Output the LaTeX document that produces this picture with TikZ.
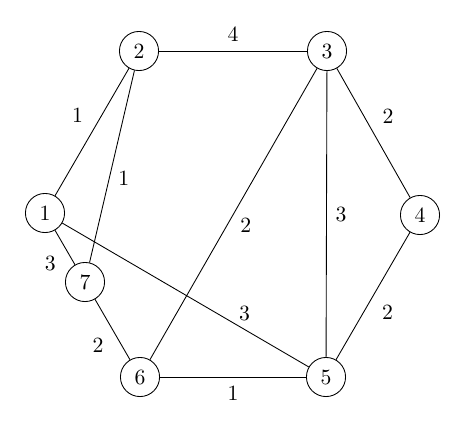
\documentclass[tikz,border=0pt]{standalone}
\usepackage{amsmath}
\usetikzlibrary{shapes, calc}

\begin{document}
\begin{tikzpicture}[x=0.46pt, y=-0.46pt, vertex/.style={draw, circle, minimum size=18pt, inner sep=0pt}, wt/.style={inner sep=4pt}]

	\useasboundingbox (0,0) rectangle (474,439);

	\node[vertex] (v1) at (45,213) {$1$};
	\node[vertex] (v2) at (139,51) {$2$};
	\node[vertex] (v3) at (327,51) {$3$};
	\node[vertex] (v4) at (420,215) {$4$};
	\node[vertex] (v5) at (326,377) {$5$};
	\node[vertex] (v6) at (140,377) {$6$};
	\node[vertex] (v7) at (85,282) {$7$};

	\draw (v1) -- node[wt, above left] {$1$} (v2);
	\draw (v2) -- node[wt, above] {$4$} (v3);
	\draw (v2) -- node[wt, pos=0.56, right] {$1$} (v7);
	\draw (v3) -- node[wt, pos=0.54, right, xshift=2pt] {$2$} (v6);
	\draw (v3) -- node[wt, right] {$3$} (v5);
	\draw (v3) -- node[wt, above right] {$2$} (v4);
	\draw (v4) -- node[wt, below right] {$2$} (v5);
	\draw (v1) -- node[wt, below left] {$3$} (v7);
	\draw (v1) -- node[wt, pos=0.74, above] {$3$} (v5);
	\draw (v7) -- node[wt, below left] {$2$} (v6);
	\draw (v6) -- node[wt, below] {$1$} (v5);
\end{tikzpicture}
\end{document}
